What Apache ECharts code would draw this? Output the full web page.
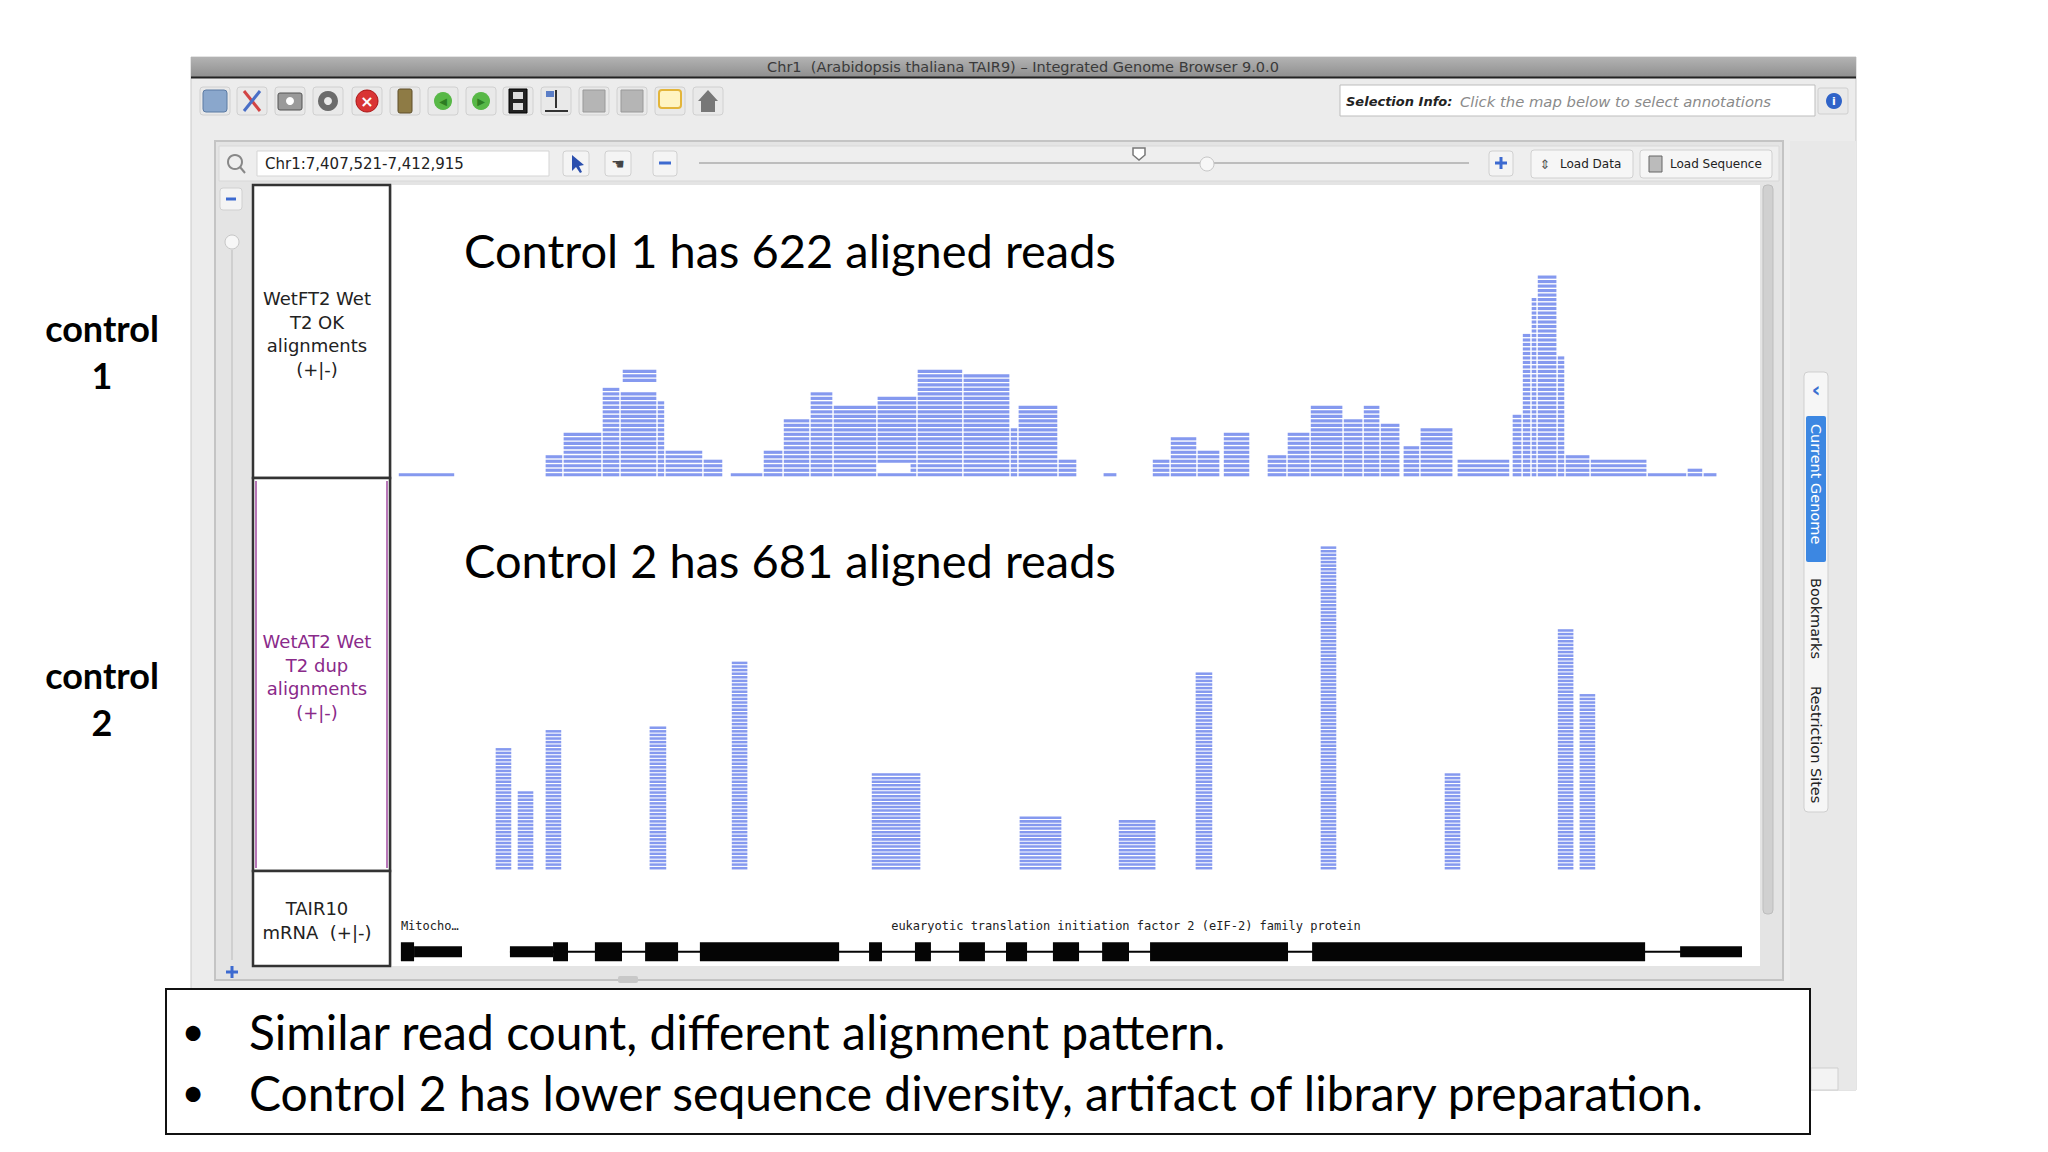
<!DOCTYPE html>
<html><head><meta charset="utf-8">
<script src="https://cdn.jsdelivr.net/npm/echarts@6/dist/echarts.min.js"></script>
<style>html,body{margin:0;padding:0;background:#fff}#c{width:2048px;height:1152px}</style>
</head><body><div id="c"></div>
<script>
// ---------------- DATA ----------------
const regionStart = 7407521;
const regionEnd = 7412915;
const locationText = 'Chr1:7,407,521-7,412,915';

// Control 1 pileup: [start bp, end bp, first row, last row (exclusive)]
const control1Reads = [
  [7407545,7407769,0,1],
  [7408124,7408195,0,5],
  [7408195,7408349,0,10],
  [7408349,7408420,0,20],
  [7408420,7408566,0,19],
  [7408428,7408566,21,24],
  [7408566,7408597,0,17],
  [7408597,7408747,0,6],
  [7408747,7408826,0,4],
  [7408854,7408984,0,1],
  [7408984,7409063,0,6],
  [7409063,7409169,0,13],
  [7409169,7409260,0,19],
  [7409260,7409433,0,16],
  [7409433,7409591,0,1],
  [7409433,7409591,3,18],
  [7409563,7409591,1,3],
  [7409591,7409772,0,24],
  [7409772,7409958,0,23],
  [7409958,7409989,0,11],
  [7409989,7410147,0,16],
  [7410147,7410222,0,4],
  [7410324,7410380,0,1],
  [7410518,7410589,0,4],
  [7410589,7410695,0,9],
  [7410695,7410786,0,6],
  [7410798,7410904,0,10],
  [7410971,7411050,0,5],
  [7411050,7411141,0,10],
  [7411141,7411271,0,16],
  [7411271,7411350,0,13],
  [7411350,7411417,0,16],
  [7411417,7411496,0,12],
  [7411507,7411574,0,7],
  [7411574,7411705,0,11],
  [7411720,7411929,0,4],
  [7411937,7411977,0,14],
  [7411977,7412012,0,32],
  [7412012,7412036,0,40],
  [7412036,7412115,0,45],
  [7412115,7412146,0,27],
  [7412146,7412245,0,5],
  [7412245,7412470,0,4],
  [7412470,7412627,0,1],
  [7412627,7412690,0,2],
  [7412690,7412746,0,1]
];

// Control 2 stacks of identical reads: [start bp, end bp, number of stacked reads]
const control2Stacks = [
  [7407927,7407994,34],
  [7408014,7408081,22],
  [7408124,7408191,39],
  [7408534,7408605,40],
  [7408858,7408925,58],
  [7409410,7409607,27],
  [7409993,7410163,15],
  [7410384,7410534,14],
  [7410687,7410758,55],
  [7411180,7411247,90],
  [7411669,7411736,27],
  [7412115,7412182,67],
  [7412201,7412268,49]
];

// TAIR10 gene models: [start bp, end bp, kind] kind: 0 intron line, 1 UTR, 2 coding exon
const mitoGene = [
  [7407556,7407608,2],
  [7407608,7407797,1]
];
const eif2Gene = [
  [7407986,7412844,0],
  [7407986,7408156,1],
  [7408156,7408215,2],
  [7408321,7408428,2],
  [7408519,7408649,2],
  [7408735,7409284,2],
  [7409402,7409453,2],
  [7409583,7409646,2],
  [7409757,7409859,2],
  [7409942,7410025,2],
  [7410127,7410230,2],
  [7410321,7410427,2],
  [7410510,7411054,2],
  [7411149,7412462,2],
  [7412600,7412844,1]
];
const geneLabels = [
  [7407556,'Mitocho…','left'],
  [7410415,'eukaryotic translation initiation factor 2 (eIF-2) family protein','center']
];

const trackLabels = ['WetFT2 Wet\nT2 OK\nalignments\n(+|-)', 'WetAT2 Wet\nT2 dup\nalignments\n(+|-)', 'TAIR10\nmRNA  (+|-)'];
const headlines = ['Control 1 has 622 aligned reads', 'Control 2 has 681 aligned reads'];
const sideLabels = ['control\n1', 'control\n2'];
const bullets = ['Similar read count, different alignment pattern.',
                 'Control 2 has lower sequence diversity, artifact of library preparation.'];
const windowTitle = 'Chr1  (Arabidopsis thaliana TAIR9) – Integrated Genome Browser 9.0.0';

// ---------------- RENDER ----------------
const READ_COLOR = '#8599ef';
const chart = echarts.init(document.getElementById('c'), null, {renderer:'svg', width:2048, height:1152});

function renderStack(params, api){
  const x0 = api.value(0), x1 = api.value(1), r0 = api.value(2), r1 = api.value(3);
  const kids = [];
  for (let r = r0; r < r1; r++){
    const a = api.coord([x0, r]), b = api.coord([x1, r + 1]);
    const h = a[1] - b[1];
    kids.push({type:'rect', shape:{x:a[0] + 0.7, y:b[1] + h*0.15, width:Math.max(1, b[0] - a[0] - 1.4), height:h*0.7},
               style:{fill:READ_COLOR}});
  }
  return {type:'group', children:kids};
}
function renderGene(params, api){
  const x0 = api.value(0), x1 = api.value(1), kind = api.value(2);
  const a = api.coord([x0, 1.5]), b = api.coord([x1, 1.5]);
  const h = kind === 2 ? 19 : (kind === 1 ? 11 : 2);
  return {type:'rect', shape:{x:a[0], y:a[1] - h/2, width:b[0] - a[0], height:h}, style:{fill:'#050505'}};
}
function renderGeneLabel(params, api){
  const p = api.coord([api.value(0), 4.2]);
  const d = geneLabels[params.dataIndex];
  return {type:'text', x:p[0], y:p[1], style:{text:d[1], font:'12px "DejaVu Sans Mono"', fill:'#222',
          textAlign:d[2], textVerticalAlign:'middle'}};
}

const DATA_LEFT = 392, DATA_RIGHT = 2048 - 1760;
const xAx = i => ({type:'value', gridIndex:i, min:regionStart, max:regionEnd, show:false});

const G = [];
function R(x,y,w,h,fill,stroke,lw,z,r){ G.push({type:'rect', shape:{x,y,width:w,height:h,r:r||0}, style:{fill:fill||'none', stroke:stroke||null, lineWidth:lw||1}, z:z||0, silent:true}); }
function T(x,y,text,font,fill,align,valign,z,rot){ G.push({type:'text', x, y, rotation:rot||0, style:{text, font, fill:fill||'#000', textAlign:align||'left', textVerticalAlign:valign||'middle'}, z:z||5, silent:true}); }
function L(x1,y1,x2,y2,stroke,lw,z){ G.push({type:'line', shape:{x1,y1,x2,y2}, style:{stroke, lineWidth:lw||1}, z:z||1, silent:true}); }
function C(cx,cy,r,fill,stroke,lw,z){ G.push({type:'circle', shape:{cx,cy,r}, style:{fill:fill||'none', stroke:stroke||null, lineWidth:lw||1}, z:z||2, silent:true}); }

// window body
R(191,57,1665,1033,'#ececec','#c9c9c9',1,0);
// title bar
G.push({type:'rect', shape:{x:191,y:57,width:1665,height:20}, style:{fill:new echarts.graphic.LinearGradient(0,0,0,1,[{offset:0,color:'#b3b3b3'},{offset:1,color:'#8f8f8f'}])}, z:1, silent:true});
L(191,77.5,1856,77.5,'#222',2,2);
T(1023,67,windowTitle,'14.5px "DejaVu Sans"','#3a3a3a','center','middle',3);

// toolbar icons
const iconX = [215,252,290,328,367,405,443,481,518,556,594,632,670,708];
iconX.forEach(x => R(x-15,87,30,28,'#e9e9e9','#d0d0d0',1,1,3));
R(203,90,24,22,'#8aa7cc','#5b7aa3',1,2,3);            // open
L(244,91,260,111,'#d24444',3,2); L(260,91,244,111,'#4a6fc7',3,2); // dna
R(278,93,24,17,'#9a9a9a','#555',1,2,2); C(290,101,4,'#fff',null,1,3); // camera
C(328,101,10,'#6b6b6b',null,1,2); C(328,101,4,'#e9e9e9',null,1,3); // gear
C(367,101,11,'#d93434','#a11',1,2); T(367,101,'×','bold 16px "DejaVu Sans"','#fff','center','middle',3); // stop
R(398,89,14,24,'#8e7b45','#5e4f2a',1,2,2);           // book
C(443,101,9,'#58b847',null,1,2); T(443,101,'◀','10px "DejaVu Sans"','#2d7d22','center','middle',3);
C(481,101,9,'#58b847',null,1,2); T(481,101,'▶','10px "DejaVu Sans"','#2d7d22','center','middle',3);
R(509,89,18,24,'#222','#000',1,2); R(513,92,10,7,'#ddd',null,1,3); R(513,103,10,7,'#ddd',null,1,3); // film
L(545,111,568,111,'#333',2,2); L(556,90,556,108,'#333',2,2); R(546,91,8,6,'#5b7ec7',null,1,3);
R(583,90,22,22,'#b5b5b5','#999',1,2);
R(621,90,22,22,'#b5b5b5','#999',1,2);
R(659,90,22,18,'#fff4c2','#e3b53a',2,2,3);            // bubble
G.push({type:'polygon', shape:{points:[[698,101],[708,90],[718,101],[715,101],[715,112],[701,112],[701,101]]}, style:{fill:'#777'}, z:2, silent:true});

// selection info
R(1340,85,475,31,'#ffffff','#bdbdbd',1,1);
T(1346,101,'Selection Info:','italic bold 13px "DejaVu Sans"','#222','left','middle',3);
T(1460,101,'Click the map below to select annotations','italic 14.8px "DejaVu Sans"','#8a8a8a','left','middle',3);
R(1818,88,30,26,'#e9e9e9','#cfcfcf',1,1,2);
C(1834,101,8,'#2f63c8',null,1,2); T(1834,101,'i','bold 11px "DejaVu Sans"','#fff','center','middle',3);

// inner panel
R(215,141,1568,839,'#e4e4e4','#c4c4c4',2,1);
R(219,146,1560,35,'#eeeeee','#d8d8d8',1,1);
C(235,162,7,'none','#888',2,2); L(240,167,245,173,'#888',2,2);
R(257,151,292,25,'#ffffff','#d5d5d5',1,2);
T(265,164,locationText,'15px "DejaVu Sans"','#222','left','middle',3);
R(563,151,26,25,'#f4f4f4','#d0d0d0',1,2,3);
G.push({type:'polygon', shape:{points:[[572,155],[572,171],[576,167],[580,173],[582,172],[579,166],[584,165]]}, style:{fill:'#2b4fae'}, z:3, silent:true});
R(605,151,26,25,'#f4f4f4','#d0d0d0',1,2,3);
T(618,164,'☚','15px "DejaVu Sans"','#444','center','middle',3);
R(653,151,24,25,'#f4f4f4','#d0d0d0',1,2,3);
L(659,163,671,163,'#3d6ad0',3,3);
L(699,163,1469,163,'#bdbdbd',2,2);
G.push({type:'polygon', shape:{points:[[1133,148],[1145,148],[1145,155],[1139,160],[1133,155]]}, style:{fill:'#fff',stroke:'#777',lineWidth:1.5}, z:3, silent:true});
C(1207,164,7,'#f7f7f7','#c6c6c6',1,3);
R(1489,151,24,25,'#f4f4f4','#d0d0d0',1,2,3);
L(1495,163,1507,163,'#3d6ad0',3,3); L(1501,157,1501,169,'#3d6ad0',3,3);
R(1531,150,102,28,'#f6f6f6','#d0d0d0',1,2,3);
T(1545,164,'⇕','13px "DejaVu Sans"','#555','center','middle',3);
T(1560,164,'Load Data','12px "DejaVu Sans"','#222','left','middle',3);
R(1640,150,132,28,'#f6f6f6','#d0d0d0',1,2,3);
R(1649,156,13,16,'#bbb','#666',1,3);
T(1670,164,'Load Sequence','12px "DejaVu Sans"','#222','left','middle',3);

// left vertical zoom slider
R(220,188,22,22,'#f4f4f4','#d0d0d0',1,2,3); L(226,199,236,199,'#3d6ad0',3,3);
L(232,250,232,960,'#cfcfcf',2,2);
C(232,242,7,'#f7f7f7','#c6c6c6',1,3);
L(226,972,238,972,'#3d6ad0',3,3); L(232,966,232,978,'#3d6ad0',3,3);

// data area + label column
R(392,185,1368,781,'#ffffff',null,1,1);
R(253,185,137,293,'#ffffff','#333',2.5,2);
R(253,478,137,393,'#ffffff','#333',2.5,2);
L(256,481,256,868,'#a04aa0',1.5,3); L(387,481,387,868,'#a04aa0',1.5,3);
R(253,871,137,95,'#ffffff','#333',2.5,2);
T(317,334,trackLabels[0],'18px "DejaVu Sans"','#222','center','middle',4);
G[G.length-1].style.lineHeight = 23.5;
T(317,677,trackLabels[1],'18px "DejaVu Sans"','#8a2a8a','center','middle',4);
G[G.length-1].style.lineHeight = 23.5;
T(317,920,trackLabels[2],'18px "DejaVu Sans"','#222','center','middle',4);
G[G.length-1].style.lineHeight = 24;
// vertical scrollbar and bottom thumb
R(1763,185,10,729,'#d0d0d0','#bdbdbd',1,2,4);
R(618,976,20,7,'#c8c8c8',null,1,2,2);

// right side tab strip
R(1790,141,66,949,'#e8e8e8',null,1,1);
R(1804,372,24,440,'#f6f6f6','#cfcfcf',1,2,4);
T(1816,389,'‹','bold 22px "DejaVu Sans"','#3a6fd0','center','middle',3);
R(1806,416,20,146,'#3c87e2',null,1,3,2);
T(1816,424,'Current Genome','14.5px "DejaVu Sans"','#ffffff','left','middle',4,-Math.PI/2);
T(1816,578,'Bookmarks','14.5px "DejaVu Sans"','#222','left','middle',4,-Math.PI/2);
T(1816,686,'Restriction Sites','14.5px "DejaVu Sans"','#222','left','middle',4,-Math.PI/2);
R(1811,1068,27,22,'#f3f3f3','#cfcfcf',1,2);

// headlines
T(464,250,headlines[0],'47px Lato','#000','left','middle',10);
T(464,560,headlines[1],'47px Lato','#000','left','middle',10);
// side labels
T(102,351,sideLabels[0],'bold 36px Lato','#000','center','middle',10);
G[G.length-1].style.lineHeight = 47;
T(102,698,sideLabels[1],'bold 36px Lato','#000','center','middle',10);
G[G.length-1].style.lineHeight = 47;

// bottom text box
R(166,989,1644,145,'#ffffff','#111',2,20);
T(193,1031,'•','40px Lato','#000','center','middle',21);
T(193,1092,'•','40px Lato','#000','center','middle',21);
T(249,1031,bullets[0],'48px Lato','#000','left','middle',21);
T(249,1092,bullets[1],'48px Lato','#000','left','middle',21);

chart.setOption({
  animation:false,
  backgroundColor:'#ffffff',
  grid:[
    {left:DATA_LEFT, right:DATA_RIGHT, top:185, height:292},
    {left:DATA_LEFT, right:DATA_RIGHT, top:481, height:389},
    {left:DATA_LEFT, right:DATA_RIGHT, top:871, height:95}
  ],
  xAxis:[xAx(0), xAx(1), xAx(2)],
  yAxis:[
    {type:'value', gridIndex:0, min:0, max:65, show:false},
    {type:'value', gridIndex:1, min:0, max:108, show:false},
    {type:'value', gridIndex:2, min:0, max:10, show:false}
  ],
  graphic:G,
  series:[
    {type:'custom', name:'Control 1 reads', xAxisIndex:0, yAxisIndex:0, z:5, silent:true,
     renderItem:renderStack, encode:{x:[0,1], y:[2,3]}, data:control1Reads},
    {type:'custom', name:'Control 2 reads', xAxisIndex:1, yAxisIndex:1, z:5, silent:true,
     renderItem:renderStack, encode:{x:[0,1], y:[2,3]}, data:control2Stacks.map(d => [d[0], d[1], 0, d[2]])},
    {type:'custom', name:'Mitochondrial gene', xAxisIndex:2, yAxisIndex:2, z:5, silent:true,
     renderItem:renderGene, encode:{x:[0,1]}, data:mitoGene},
    {type:'custom', name:'eIF-2 gene', xAxisIndex:2, yAxisIndex:2, z:5, silent:true,
     renderItem:renderGene, encode:{x:[0,1]}, data:eif2Gene},
    {type:'custom', name:'Gene labels', xAxisIndex:2, yAxisIndex:2, z:6, silent:true,
     renderItem:renderGeneLabel, encode:{x:0}, data:geneLabels.map(d => [d[0]])}
  ]
});
</script>
</body></html>
